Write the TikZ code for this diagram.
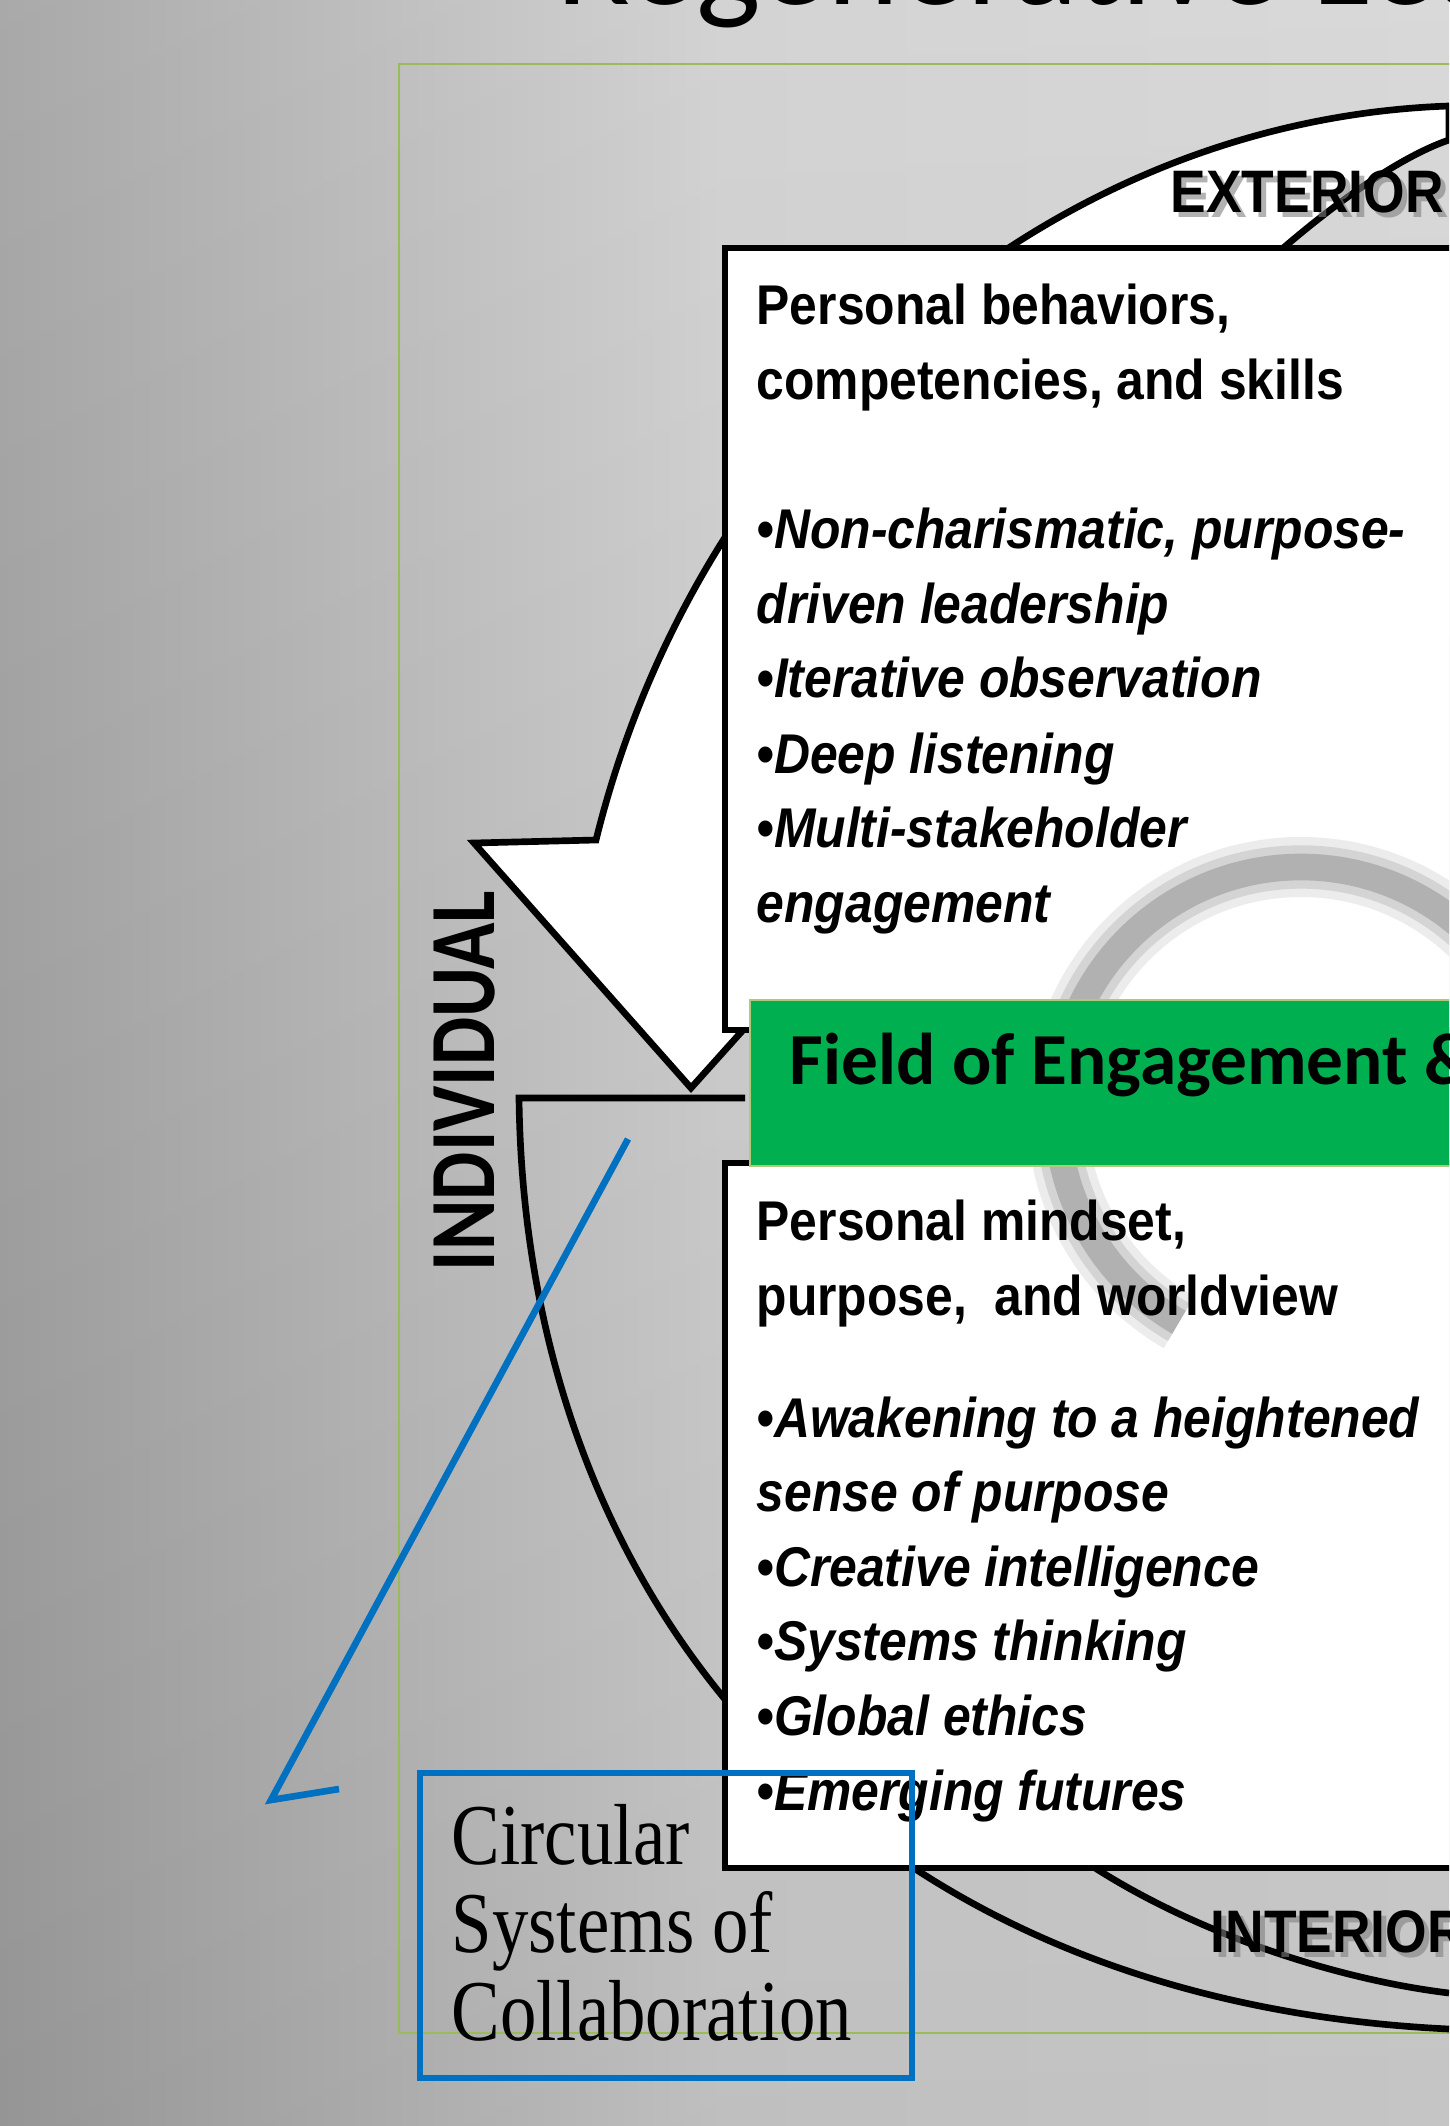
\documentclass[tikz,border=0pt]{standalone}
\usepackage{fontspec}
\setmainfont{Liberation Sans}
\newfontfamily\narrowf[FakeStretch=0.89]{Liberation Sans}
\newfontfamily\calib{Carlito}
\newfontfamily\calibn[FakeStretch=0.82]{Carlito}
\newfontfamily\serifn[FakeStretch=0.84]{Liberation Serif}
\definecolor{bgL}{RGB}{162,162,162}
\definecolor{bgM}{RGB}{208,208,208}
\definecolor{bgR}{RGB}{214,214,214}
\definecolor{frameg}{RGB}{155,187,89}
\definecolor{fieldg}{RGB}{0,176,80}
\definecolor{blueline}{RGB}{0,112,192}
\tikzset{
  bx/.style={draw=black,line width=2pt,fill=white},
  band/.style={draw=black,line width=2pt},
  body/.style={anchor=base west,inner sep=0pt,font=\narrowf\bfseries\fontsize{16.8}{20}\selectfont},
  bodyi/.style={body,font=\narrowf\bfseries\itshape\fontsize{16.8}{20}\selectfont},
  bl/.style={draw=blueline,line width=2pt},
  lab/.style={anchor=base west,inner sep=0pt,font=\narrowf\bfseries\fontsize{18}{20}\selectfont},
  ser/.style={anchor=base west,inner sep=0pt,font=\serifn\fontsize{26}{26.4}\selectfont},
}
\begin{document}
\begin{tikzpicture}[x=0.3pt,y=-0.3pt]
\useasboundingbox (0,0) rectangle (1449,2126);
\clip (0,0) rectangle (1449,2126);
% background
\shade[left color=bgL,right color=bgR,middle color=bgM] (0,0) rectangle (1449,2126);
\shade[top color=white,bottom color=black,opacity=0.08] (0,0) rectangle (1449,2126);
% title
\node[anchor=base west,inner sep=0pt,font=\calib\fontsize{41}{44}\selectfont] (title) at (556,5) {Regenerative Leadership};
% frame
\draw[frameg,line width=0.7pt] (399,64) rectangle (1470,2033);
% upper arrow
\draw[band,fill=white,line join=miter] (474,843) -- (596,840)
  .. controls (700,420) and (1050,120) .. (1449,106)
  -- (1449,140) .. controls (1330,180) and (1000,450) .. (770,1000)
  -- (691,1088) -- cycle;
% lower band
\draw[band] (745,1098) -- (519,1098) .. controls (525,1600) and (850,2000) .. (1449,2029);
\draw[band] (1000,1790) .. controls (1100,1900) and (1300,1975) .. (1449,1993);
% boxes
\path[bx] (725,248) rectangle (1500,1030);
\path[bx] (725,1163) rectangle (1500,1868);
% shadow ring (soft)
\foreach \w/\o [count=\k] in {18/0.10,13/0.15,8/0.25}
  \draw[gray!60!black,opacity=\o,line width=\w pt] (1545,1111) arc[start angle=0,end angle=-240,radius=244];
% green bar
\draw[fill=fieldg,draw=frameg!80,line width=0.8pt] (750,1000) rectangle (1500,1166);
\node[anchor=base west,inner sep=0pt,font=\calib\bfseries\fontsize{22}{24}\selectfont] (field) at (789,1084) {Field of Engagement \&};
% labels
\node[lab,text=black!50,opacity=0.6] (extsh) at (1175,218) {EXTERIOR};
\node[lab] (ext) at (1170,213) {EXTERIOR};
\node[lab,text=black!50,opacity=0.6] (intsh) at (1215,1957) {INTERIOR};
\node[lab] (int) at (1210,1952) {INTERIOR};
\node[rotate=90,inner sep=0pt,font=\calibn\bfseries\fontsize{28}{30}\selectfont] (indiv) at (465,1081) {INDIVIDUAL};
% top box text
\node[body] (t1) at (756,325) {Personal behaviors,};
\node[body] (t2) at (756,400) {competencies, and skills};
\node[bodyi] (t3) at (756,549) {\textbullet Non-charismatic, purpose-};
\node[bodyi] (t4) at (756,624) {driven leadership};
\node[bodyi] (t5) at (756,698) {\textbullet Iterative observation};
\node[bodyi] (t6) at (756,773) {\textbullet Deep listening};
\node[bodyi] (t7) at (756,847) {\textbullet Multi-stakeholder};
\node[bodyi] (t8) at (756,922) {engagement};
% lower box text
\node[body] (b1) at (756,1240) {Personal mindset,};
\node[body] (b2) at (756,1315) {purpose,\ \ and worldview};
\node[bodyi] (b3) at (756,1437) {\textbullet Awakening to a heightened};
\node[bodyi] (b4) at (756,1511) {sense of purpose};
\node[bodyi] (b5) at (756,1586) {\textbullet Creative intelligence};
\node[bodyi] (b6) at (756,1660) {\textbullet Systems thinking};
\node[bodyi] (b7) at (756,1735) {\textbullet Global ethics};
\node[bodyi] (b8) at (756,1810) {\textbullet Emerging futures};
% blue elements
\coordinate (p1) at (628,1139);
\coordinate (p2) at (271,1800);
\coordinate (p3) at (339,1789);
\draw[bl] (p1) -- (p2) -- (p3);
\draw[bl] (420,1773) rectangle (912,2078);
\node[ser] (circ) at (451,1864) {Circular};
\node[ser] (sys) at (451,1952) {Systems of};
\node[ser] (coll) at (451,2040) {Collaboration};
\end{tikzpicture}
\end{document}
